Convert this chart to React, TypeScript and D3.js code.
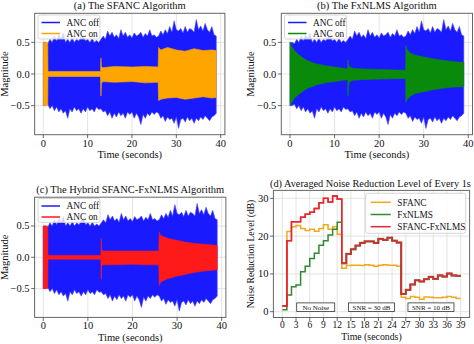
import React from "react";
import * as d3 from "d3";

// ---- waveform data (envelopes) ----
const offTime = d3.range(0, 39.001, 0.5);
const offUpper = [
  0.5, 0.5, 0.48, 0.55, 0.5, 0.6, 0.52, 0.62, 0.55, 0.65,
  0.5, 0.55, 0.5, 0.57, 0.5, 0.55, 0.52, 0.58, 0.62, 0.52,
  0.55, 0.5, 0.56, 0.5, 0.53, 0.5, 0.55, 0.6, 0.55, 0.68,
  0.6, 0.66, 0.58, 0.62, 0.56, 0.7, 0.6, 0.66, 0.58, 0.62,
  0.57, 0.65, 0.6, 0.62, 0.66, 0.58, 0.64, 0.6, 0.7, 0.6,
  0.62, 0.58, 0.6, 0.68, 0.62, 0.7, 0.64, 0.75, 0.66, 0.84,
  0.7, 0.68, 0.72, 0.65, 0.75, 0.66, 0.72, 0.7, 0.66, 0.86,
  0.7, 0.76, 0.68, 0.8, 0.7, 0.66, 0.75, 0.62, 0.6
];
const offLower = [
  -0.5, -0.5, -0.48, -0.55, -0.5, -0.58, -0.52, -0.6, -0.55, -0.62,
  -0.58, -0.7, -0.55, -0.6, -0.52, -0.58, -0.55, -0.62, -0.55, -0.6,
  -0.52, -0.58, -0.55, -0.6, -0.52, -0.56, -0.55, -0.6, -0.58, -0.66,
  -0.6, -0.7, -0.62, -0.68, -0.6, -0.66, -0.62, -0.7, -0.6, -0.64,
  -0.6, -0.7, -0.62, -0.68, -0.8, -0.64, -0.7, -0.62, -0.66, -0.6,
  -0.64, -0.6, -0.62, -0.7, -0.66, -0.75, -0.68, -0.72, -0.7, -0.78,
  -0.68, -0.86, -0.72, -0.7, -0.76, -0.68, -0.74, -0.7, -0.78, -0.7,
  -0.74, -0.68, -0.72, -0.66, -0.7, -0.74, -0.68, -0.66, -0.62
];

const sfancTime = [0, 1.0, 1.05, 12.9, 13.0, 13.1, 13.4, 16, 20, 23, 25.9, 26.0, 26.5, 28, 30, 32, 34, 36, 38, 39];
const sfancUpper = [0.5, 0.5, 0.04, 0.04, 0.25, 0.12, 0.1, 0.12, 0.11, 0.12, 0.11, 0.42, 0.38, 0.42, 0.38, 0.36, 0.4, 0.37, 0.38, 0.37];
const sfancLower = [-0.5, -0.5, -0.04, -0.04, -0.35, -0.15, -0.12, -0.13, -0.12, -0.14, -0.13, -0.42, -0.4, -0.38, -0.37, -0.4, -0.38, -0.36, -0.38, -0.37];

const fxTime = [0, 0.5, 1, 2, 3, 4, 5, 6, 8, 10, 12, 12.95, 13.0, 13.2, 14, 16, 20, 25.95, 26.0, 26.3, 27, 28, 30, 32, 34, 36, 39];
const fxUpper = [0.5, 0.42, 0.37, 0.3, 0.25, 0.21, 0.18, 0.16, 0.13, 0.11, 0.09, 0.08, 0.22, 0.12, 0.09, 0.08, 0.07, 0.06, 0.45, 0.38, 0.33, 0.3, 0.27, 0.24, 0.22, 0.2, 0.18];
const fxLower = [-0.5, -0.44, -0.38, -0.32, -0.27, -0.22, -0.2, -0.17, -0.14, -0.12, -0.1, -0.09, -0.35, -0.14, -0.1, -0.09, -0.08, -0.07, -0.45, -0.4, -0.35, -0.31, -0.28, -0.25, -0.23, -0.21, -0.2];

const hybTime = [0, 1.0, 1.05, 12.9, 13.0, 13.1, 13.4, 16, 20, 23, 25.9, 26.0, 26.3, 27, 28, 30, 32, 34, 36, 39];
const hybUpper = [0.5, 0.5, 0.03, 0.03, 0.3, 0.12, 0.1, 0.1, 0.1, 0.1, 0.1, 0.4, 0.35, 0.33, 0.3, 0.27, 0.24, 0.22, 0.21, 0.19];
const hybLower = [-0.5, -0.5, -0.03, -0.03, -0.35, -0.14, -0.12, -0.12, -0.11, -0.12, -0.12, -0.45, -0.4, -0.37, -0.34, -0.3, -0.27, -0.24, -0.22, -0.2];

const waveTicksX = [0, 10, 20, 30, 40];
const waveTicksY = [-0.5, 0, 0.5];
const waveTickLabelsY = ["\u22120.5", "0.0", "0.5"];

// ---- noise reduction per second (dB) ----
const nrSfanc = [
  1.5, 21.2, 22.5, 22.8, 22.0, 21.5, 21.8, 21.3, 22.0, 23.0,
  21.8, 22.5, 20.5, 11.5, 12.2, 12.3, 12.3, 12.2, 12.4, 12.3,
  12.0, 12.3, 12.4, 12.3, 12.3, 12.0, 3.8, 3.5, 4.0, 3.8,
  3.3, 3.9, 3.8, 3.7, 3.7, 3.8, 4.0, 3.8, 3.5
];
const nrFxnlms = [
  0.5, 4.4, 6.6, 7.1, 10.6, 12.0, 14.1, 15.5, 17.6, 18.8,
  20.3, 21.8, 23.7, 12.8, 15.3, 16.5, 17.5, 18.2, 18.6, 18.6,
  18.2, 19.3, 19.0, 19.6, 18.8, 18.3, 4.7, 5.8, 7.2, 8.3,
  8.0, 8.6, 9.2, 8.7, 9.6, 9.3, 10.1, 9.6, 9.5
];
const nrHybrid = [
  1.5, 18.8, 23.8, 23.8, 25.0, 25.8, 26.3, 27.3, 28.8, 30.0,
  29.0, 30.6, 29.8, 12.8, 15.3, 16.5, 17.5, 18.2, 18.6, 18.6,
  18.2, 19.3, 19.0, 19.6, 18.8, 18.3, 4.7, 5.8, 7.2, 8.3,
  8.0, 8.6, 9.2, 8.7, 9.6, 9.3, 10.1, 9.6, 9.5
];
const nrTicksX = [0, 3, 6, 9, 12, 15, 18, 21, 24, 27, 30, 33, 36, 39];
const nrTicksY = [0, 10, 20, 30];
const nrNotes = [
  { t: 7.3, label: "No Noise" },
  { t: 19.5, label: "SNR = 30 dB" },
  { t: 32.5, label: "SNR = 10 dB" }
];

const FONT = "'Liberation Serif', 'DejaVu Serif', serif";
const FRAME = "#666";
const GRID = "#dcdcdc";

function WavePanel(props: any) {
  const { left, right, top, bottom, title, onTime, onUp, onLo, onColor, legendLeft, legendTop, yLabelX } = props;
  const x = d3.scaleLinear().domain([-1.95, 40.95]).range([left, right]);
  const y = d3.scaleLinear().domain([-0.96, 0.96]).range([bottom, top]);
  const area = d3.area<number>()
    .x((d) => x(d))
    .y0((d, i) => y(offLower[i]))
    .y1((d, i) => y(offUpper[i]));
  const onArea = d3.area<number>()
    .x((d) => x(d))
    .y0((d, i) => y(onLo[i]))
    .y1((d, i) => y(onUp[i]));
  const clipId = "clip" + Math.round(left) + "_" + Math.round(top);
  const cx = (left + right) / 2;
  return (
    <g>
      <defs>
        <clipPath id={clipId}><rect x={left} y={top} width={right - left} height={bottom - top} /></clipPath>
      </defs>
      {waveTicksX.map((t) => (
        <line key={"gx" + t} x1={x(t)} x2={x(t)} y1={top} y2={bottom} stroke={GRID} strokeWidth={0.8} />
      ))}
      {waveTicksY.map((t) => (
        <line key={"gy" + t} x1={left} x2={right} y1={y(t)} y2={y(t)} stroke={GRID} strokeWidth={0.8} />
      ))}
      <g clipPath={`url(#${clipId})`}>
        <path d={area(offTime) || ""} fill="#1a1aff" stroke="#4040ff" strokeWidth={0.6} strokeLinejoin="round" />
        <path d={onArea(onTime) || ""} fill={onColor} stroke={onColor} strokeWidth={0.6} />
      </g>
      <rect x={left} y={top} width={right - left} height={bottom - top} fill="none" stroke={FRAME} strokeWidth={1} />
      {waveTicksX.map((t) => (
        <g key={"tx" + t}>
          <line x1={x(t)} x2={x(t)} y1={bottom} y2={bottom + 3.5} stroke="#444" strokeWidth={0.8} />
          <text x={x(t)} y={bottom + 12} fontSize={10.5} textAnchor="middle" fontFamily={FONT} fill="#111">{t}</text>
        </g>
      ))}
      {waveTicksY.map((t, i) => (
        <g key={"ty" + t}>
          <line x1={left - 3.5} x2={left} y1={y(t)} y2={y(t)} stroke="#444" strokeWidth={0.8} />
          <text x={left - 5} y={y(t) + 3.5} fontSize={10.5} textAnchor="end" fontFamily={FONT} fill="#111">{waveTickLabelsY[i]}</text>
        </g>
      ))}
      <text x={cx} y={top - 4} fontSize={10.5} textAnchor="middle" fontFamily={FONT} fill="#111">{title}</text>
      <text x={cx} y={bottom + 23.5} fontSize={10.5} textAnchor="middle" fontFamily={FONT} fill="#111">Time (seconds)</text>
      <text transform={`translate(${yLabelX},${(top + bottom) / 2}) rotate(-90)`} fontSize={10.5} textAnchor="middle" fontFamily={FONT} fill="#111">Magnitude</text>
      <g transform={`translate(${legendLeft},${legendTop})`}>
        <rect x={0} y={0} width={62} height={24} rx={2} fill="white" fillOpacity={0.8} stroke="#ccc" strokeWidth={0.8} />
        <line x1={3.5} x2={22} y1={7.5} y2={7.5} stroke="#1a1aff" strokeWidth={1.5} />
        <text x={28.5} y={10.8} fontSize={9.3} fontFamily={FONT} fill="#111">ANC off</text>
        <line x1={3.5} x2={22} y1={18.5} y2={18.5} stroke={onColor} strokeWidth={1.5} />
        <text x={28.5} y={21.8} fontSize={9.3} fontFamily={FONT} fill="#111">ANC on</text>
      </g>
    </g>
  );
}

function NoiseReductionPanel() {
  const left = 273.4, right = 469.6, top = 190.4, bottom = 317.5;
  const x = d3.scaleLinear().domain([-1.95, 40.95]).range([left, right]);
  const y = d3.scaleLinear().domain([-1.53, 32.1]).range([bottom, top]);
  const step = d3.line<[number, number]>().x((d) => x(d[0])).y((d) => y(d[1])).curve(d3.curveStepAfter);
  const pts = (v: number[]) => {
    const p: [number, number][] = v.map((d, i) => [i, d]);
    p.push([v.length, v[v.length - 1]]);
    return p;
  };
  const series = [
    { name: "SFANC", values: nrSfanc, color: "#f2a81d" },
    { name: "FxNLMS", values: nrFxnlms, color: "#2e8b2e" },
    { name: "SFANC-FxNLMS", values: nrHybrid, color: "#e8262b" }
  ];
  return (
    <g>
      {nrTicksX.map((t) => (
        <line key={"gx" + t} x1={x(t)} x2={x(t)} y1={top} y2={bottom} stroke={GRID} strokeWidth={0.8} />
      ))}
      {nrTicksY.map((t) => (
        <line key={"gy" + t} x1={left} x2={right} y1={y(t)} y2={y(t)} stroke={GRID} strokeWidth={0.8} />
      ))}
      {series.map((s, i) => (
        <path key={s.name} d={step(pts(i === 1 ? s.values.slice(0, 13) : s.values)) || ""} fill="none" stroke={s.color} strokeWidth={1.5} />
      ))}
      {/* FxNLMS coincides with the hybrid after 13 s: drawn under red */}
      <path d={step(pts(nrFxnlms).slice(13)) || ""} fill="none" stroke="#2e6b2e" strokeWidth={2.2} opacity={0.7} />
      <path d={step(pts(nrHybrid)) || ""} fill="none" stroke="#e8262b" strokeWidth={1.4} />
      <rect x={left} y={top} width={right - left} height={bottom - top} fill="none" stroke={FRAME} strokeWidth={1} />
      {nrTicksX.map((t) => (
        <g key={"tx" + t}>
          <line x1={x(t)} x2={x(t)} y1={bottom} y2={bottom + 3.5} stroke="#444" strokeWidth={0.8} />
          <text x={x(t)} y={bottom + 10.5} fontSize={9.5} textAnchor="middle" fontFamily={FONT} fill="#111">{t}</text>
        </g>
      ))}
      {nrTicksY.map((t) => (
        <g key={"ty" + t}>
          <line x1={left - 3.5} x2={left} y1={y(t)} y2={y(t)} stroke="#444" strokeWidth={0.8} />
          <text x={left - 5} y={y(t) + 3.5} fontSize={10.5} textAnchor="end" fontFamily={FONT} fill="#111">{t}</text>
        </g>
      ))}
      {nrNotes.map((n) => (
        <g key={n.label}>
          <rect x={x(n.t) - (n.label.length > 8 ? 23 : 19)} y={y(1.2) - 4.3} width={n.label.length > 8 ? 46 : 38} height={8.6} fill="white" stroke="#333" strokeWidth={0.8} />
          <text x={x(n.t)} y={y(1.2) + 2.4} fontSize={7} textAnchor="middle" fontFamily={FONT} fill="#111">{n.label}</text>
        </g>
      ))}
      <g transform="translate(365.7,193.3)">
        <rect x={0} y={0} width={100} height={40} rx={2} fill="white" fillOpacity={0.85} stroke="#ccc" strokeWidth={0.8} />
        {series.map((s, i) => (
          <g key={"lg" + s.name}>
            <line x1={5} x2={25} y1={9 + i * 12.2} y2={9 + i * 12.2} stroke={s.color} strokeWidth={1.5} />
            <text x={31.6} y={12.3 + i * 12.2} fontSize={9.3} fontFamily={FONT} fill="#111">{s.name}</text>
          </g>
        ))}
      </g>
      <text x={270} y={187} fontSize={10.3} fontFamily={FONT} fill="#111">(d) Averaged Noise Reduction Level of Every 1s</text>
      <text x={(left + right) / 2} y={339.5} fontSize={9.8} textAnchor="middle" fontFamily={FONT} fill="#111">Time (seconds)</text>
      <text transform={`translate(254,${(top + bottom) / 2}) rotate(-90)`} fontSize={9.6} textAnchor="middle" fontFamily={FONT} fill="#111">Noise Reduction Level (dB)</text>
    </g>
  );
}

export default function App() {
  return (
    <svg width={474} height={344} style={{ position: "absolute", left: 0, top: 0, background: "white" }}>
      <rect width={474} height={344} fill="white" />
      <WavePanel left={34.65} right={224.9} top={13.3} bottom={134.7} title="(a) The SFANC Algorithm"
        onTime={sfancTime} onUp={sfancUpper} onLo={sfancLower} onColor="#ffa500" legendLeft={38} legendTop={15} yLabelX={8} />
      <WavePanel left={281.3} right={472.5} top={13.3} bottom={134.7} title="(b) The FxNLMS Algorithm"
        onTime={fxTime} onUp={fxUpper} onLo={fxLower} onColor="#0a8a0a" legendLeft={284.5} legendTop={15} yLabelX={254} />
      <WavePanel left={34.6} right={225.9} top={197.2} bottom={317.4} title="(c) The Hybrid SFANC-FxNLMS Algorithm"
        onTime={hybTime} onUp={hybUpper} onLo={hybLower} onColor="#ff1a1a" legendLeft={38} legendTop={198.5} yLabelX={8} />
      <NoiseReductionPanel />
    </svg>
  );
}
